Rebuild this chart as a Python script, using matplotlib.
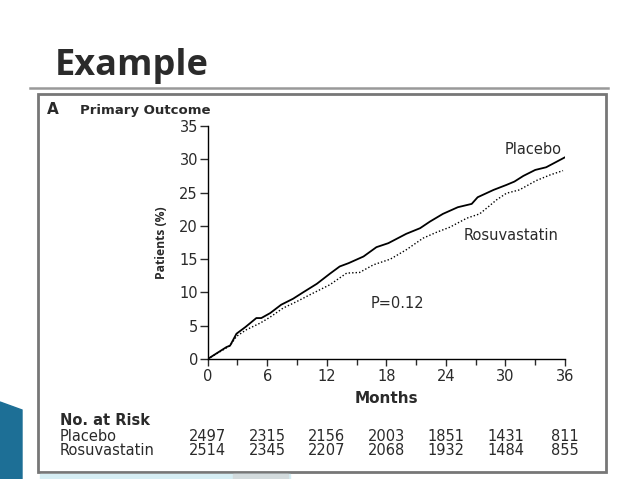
import matplotlib.pyplot as plt
import matplotlib.transforms as mtransforms
from matplotlib.patches import Rectangle, Polygon
from matplotlib.lines import Line2D

plt.rcParams['font.family'] = ['DejaVu Sans']

# cumulative incidence curves
placebo_t = [0, 1.9, 2.25, 2.9, 3.8, 4.9, 5.4, 6.3, 7.4, 8.6, 9.6, 11, 12.3, 13.3, 14.2,
             15.7, 17, 18.2, 20, 21.4, 22.4, 23.7, 25.2, 26.6, 27.2, 28.8, 30.1, 30.9,
             31.8, 33, 34.1, 36]
placebo_y = [0, 1.8, 2.0, 3.8, 4.8, 6.15, 6.15, 6.9, 8.15, 9.05, 10.0, 11.3, 12.8, 13.9, 14.4,
             15.4, 16.8, 17.4, 18.8, 19.65, 20.65, 21.8, 22.8, 23.3, 24.3, 25.4, 26.15, 26.65,
             27.5, 28.4, 28.8, 30.3]

rosu_t = [0, 2.25, 2.9, 3.9, 5.3, 6.3, 7.6, 9, 10.3, 12.3, 14, 15.3, 16.7, 18.4, 20, 21.7,
          23, 24.4, 26.1, 27.4, 28.3, 29.1, 30.1, 31.4, 33.1, 34.5, 35.8]
rosu_y = [0, 2.0, 3.4, 4.4, 5.4, 6.3, 7.65, 8.65, 9.65, 11.15, 12.9, 13.0, 14.15, 15.0, 16.4,
          18.15, 19.0, 19.8, 21.15, 21.8, 22.9, 23.9, 24.9, 25.4, 26.8, 27.65, 28.3]

risk_months = [0, 6, 12, 18, 24, 30, 36]
risk_placebo = [2497, 2315, 2156, 2003, 1851, 1431, 811]
risk_rosu = [2514, 2345, 2207, 2068, 1932, 1484, 855]

W, H = 638, 479
fig = plt.figure(figsize=(W / 100, H / 100), dpi=100)

def fx(px):
    return px / W

def fy(py):
    return 1 - py / H

txt = '#2a2a2a'

# slide decorations
fig.text(fx(55), fy(75), "Example", fontsize=26, fontweight='bold', color='#2b2b2b',
         family=['Open Sans', 'DejaVu Sans'], va='baseline')
fig.add_artist(Line2D([fx(30), fx(608)], [fy(88), fy(88)], color='#999999', lw=1.8))
fig.add_artist(Rectangle((fx(38), fy(472)), fx(606) - fx(38), fy(94) - fy(472),
                         fill=False, edgecolor='#777777', lw=2, transform=fig.transFigure))
fig.add_artist(Polygon([[0, fy(402)], [fx(22), fy(410)], [fx(22), 0], [0, 0]],
                       closed=True, color='#1d6f96', transform=fig.transFigure))
fig.add_artist(Rectangle((fx(40), 0), fx(290) - fx(40), fy(474), color='#d6eef4',
                         transform=fig.transFigure))
fig.add_artist(Rectangle((fx(233), 0), fx(288) - fx(233), fy(474), color='#d3dbdd',
                         transform=fig.transFigure))

fig.text(fx(47), fy(114), "A", fontsize=11, fontweight='bold', color=txt)
fig.text(fx(80), fy(114), "Primary Outcome", fontsize=9.5, fontweight='bold', color=txt)

ax = fig.add_axes([fx(207.7), fy(359), fx(565) - fx(207.7), fy(126) - fy(359)])
ax.plot(placebo_t, placebo_y, color='black', lw=1.3)
ax.plot(rosu_t, rosu_y, color='black', lw=1.0, ls=(0, (1, 1.5)))

ax.set_xlim(0, 36)
ax.set_ylim(0, 35)
ax.set_xticks(range(0, 37, 6))
ax.set_xticks(range(3, 36, 6), minor=True)
ax.set_yticks(range(0, 36, 5))
for s in ['top', 'right']:
    ax.spines[s].set_visible(False)
for s in ['left', 'bottom']:
    ax.spines[s].set_linewidth(1.0)
ax.tick_params(axis='both', which='both', direction='out', width=1.0, labelsize=10.5,
               colors=txt)
ax.tick_params(axis='x', which='major', length=5, pad=2)
ax.tick_params(axis='x', which='minor', length=4)
ax.tick_params(axis='y', length=6, pad=1)

ax.set_xlabel("Months", fontsize=11, fontweight='bold', labelpad=5, color=txt)
ax.set_ylabel("Patients (%)", fontsize=8.7, fontweight='bold', labelpad=8, color=txt,
              family=['Open Sans', 'DejaVu Sans'])

ax.text(32.8, 31.45, "Placebo", fontsize=10.5, ha='center', va='center', color=txt)
ax.text(30.6, 18.6, "Rosuvastatin", fontsize=10.5, ha='center', va='center', color=txt)
ax.text(19.1, 8.3, "P=0.12", fontsize=10.5, ha='center', va='center', color=txt)

# number at risk table
tr = mtransforms.blended_transform_factory(ax.transData, fig.transFigure)
fig.text(fx(60), fy(425), "No. at Risk", fontsize=10.5, fontweight='bold', color=txt)
fig.text(fx(60), fy(441), "Placebo", fontsize=10.5, color=txt)
fig.text(fx(60), fy(455), "Rosuvastatin", fontsize=10.5, color=txt)
for m, a, b in zip(risk_months, risk_placebo, risk_rosu):
    ax.text(m, fy(441), str(a), transform=tr, fontsize=10.5, ha='center', color=txt)
    ax.text(m, fy(455), str(b), transform=tr, fontsize=10.5, ha='center', color=txt)

fig.savefig("out.png", dpi=100)
